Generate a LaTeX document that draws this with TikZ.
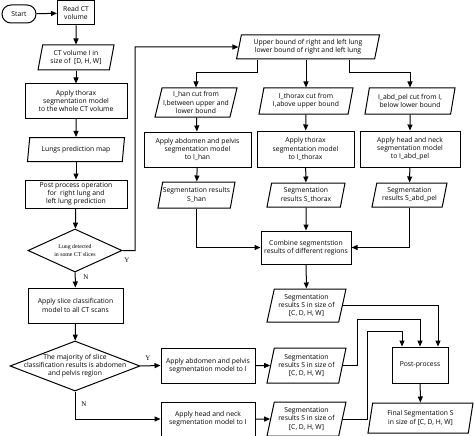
\documentclass[tikz,border=0pt]{standalone}
\usepackage{fontspec}
\setmainfont{Open Sans}
\newfontfamily\serifx{Liberation Serif}
\usetikzlibrary{shapes.geometric,arrows.meta,calc}
\begin{document}
\begin{tikzpicture}[x=1pt,y=-1pt,
  every node/.style={font=\fontsize{6.8}{8.2}\selectfont, align=center, inner sep=0pt},
  box/.style 2 args={draw, line width=1pt, rectangle, minimum width=#1, minimum height=#2},
  par/.style 2 args={draw, line width=1pt, trapezium, trapezium left angle=72, trapezium right angle=108,
     trapezium stretches body, minimum width=#1, minimum height=#2},
  dia/.style 2 args={draw, line width=1pt, diamond, minimum width=#1, minimum height=#2, inner sep=0pt},
  arr/.style={line width=1pt, -{Triangle[length=6pt,width=5pt]}},
  yn/.style={font=\serifx\fontsize{7}{8}\selectfont}
]
\useasboundingbox (0,0) rectangle (474,436);

% left column
\node[draw, line width=1pt, rounded corners=9pt, minimum width=34, minimum height=18] (start) at (19,14) {Start};
\node[box={37}{24}] (read) at (76,13) {Read CT\\volume};
\node[par={76}{25}] (ctvol) at (76,57.5) {CT volume I in\\size of~~{[D, H, W]}};
\node[box={102}{34}] (thor) at (76,101) {Apply thorax\\segmentation model\\to the whole CT volume};
\node[par={97}{24}] (lungs) at (76,149.5) {Lungs prediction map};
\node[box={102}{28}] (post) at (76,194) {Post process operation\\for~ right lung and\\left lung prediction};
\node[dia={94}{43}, label={[font=\serifx\fontsize{5.8}{7.5}\selectfont, align=center]center:Lung detected\\in some CT slices}] (d1) at (75,250.5) {};
\node[box={95}{35}] (slice) at (75.5,305.5) {Apply slice classification\\model to all CT scans};
\node[dia={130}{50}, label={[font=\fontsize{6.8}{8}\selectfont, align=center]center:The majority of slice\\classification results is abdomen\\and pelvis region}] (d2) at (75,366) {};

% upper right
\node[par={143}{24}] (ubound) at (308,47) {Upper bound of right and left lung\\lower bound of right and left lung};
\node[par={82}{29}] (ihan) at (196,102.5) {I\_han cut from\\I,between upper and\\lower bound};
\node[par={94}{26}] (ithor) at (306,101) {I\_thorax cut from\\I,above upper bound};
\node[par={90}{26}] (iabd) at (410,101) {I\_abd\_pel cut from I,\\below lower bound};
\node[box={107}{35}] (aabd) at (197.5,149.5) {Apply abdomen and pelvis\\segmentation model\\to I\_han};
\node[box={97}{36}] (athor) at (305.5,149) {Apply thorax\\segmentation model\\to I\_thorax};
\node[box={100}{36}] (ahead) at (410,149) {Apply head and neck\\segmentation model\\to I\_abd\_pel};
\node[par={77}{26}] (shan) at (196.5,195) {Segmentation results\\S\_han};
\node[par={78}{24}] (sthor) at (306,195) {Segmentation\\results S\_thorax};
\node[par={75}{24}] (sabd) at (409.5,195) {Segmentation\\results S\_abd\_pel};
\node[box={90}{33}] (comb) at (306,247.5) {Combine segmentstion\\results of different regions};
\node[par={79}{33}] (sres1) at (306.5,305.5) {Segmentation\\results S in size of\\{[C, D, H, W]}};

% lower right
\node[box={94}{35}] (aabd2) at (208,365.5) {Apply abdomen and pelvis\\segmentation model to I};
\node[par={79}{35}] (sres2) at (306.5,365.5) {Segmentation\\results S in size of\\{[C, D, H, W]}};
\node[box={94}{34}] (ahead2) at (208,419) {Apply head and neck\\segmentation model to I};
\node[par={79}{34}] (sres3) at (306.5,419) {Segmentation\\results S in size of\\{[C, D, H, W]}};
\node[box={56}{36}] (pp) at (420,365) {Post-process};
\node[par={105}{30}] (final) at (420.5,418) {Final Segmentation S\\in size of [C, D, H, W]};

% connectors left column
\draw[arr] (start) -- (read);
\draw[arr] (read) -- (ctvol);
\draw[arr] (ctvol) -- (thor);
\draw[arr] (thor) -- (lungs);
\draw[arr] (lungs) -- (post);
\draw[arr] (post) -- (d1);
\draw[arr] (d1.east) -| (135,47) -- (ubound.west);
\node[yn] (y1) at (127,260) {Y};
\draw[arr] (d1) -- (slice);
\node[yn] (n1) at (86,277) {N};
\draw[arr] (slice) -- (d2);
\draw[arr] (d2.east) -- (aabd2.west);
\node[yn] (y2) at (148,358) {Y};
\draw[arr] (d2.south) |- (ahead2.west);
\node[yn] (n2) at (84,404) {N};
\draw[arr] (aabd2) -- (sres2);
\draw[arr] (ahead2) -- (sres3);

% connectors upper right
\draw[arr] ([xshift=-51pt]ubound.south) -- ++(0,13) -| (ihan.north);
\draw[arr] (ubound.south -| ithor.north) -- (ithor.north);
\draw[arr] ([xshift=41pt]ubound.south) -- ++(0,13) -| (iabd.north);
\draw[arr] (ihan) -- (aabd);
\draw[arr] (aabd) -- (shan);
\draw[arr] (ithor) -- (athor);
\draw[arr] (athor) -- (sthor);
\draw[arr] (iabd) -- (ahead);
\draw[arr] (ahead) -- (sabd);
\draw[arr] (shan.south) |- (comb.west);
\draw[arr] (sthor) -- (comb);
\draw[arr] (sabd.south) |- (comb.east);
\draw[arr] (comb) -- (sres1);

% to post-process
\draw[arr] (sres1.east) -| ([xshift=18pt]pp.north);
\draw[arr] (sres2.east) -| (357,319) -| (pp.north);
\draw[arr] (sres3.east) -| (367,331) -| ([xshift=-18pt]pp.north);
\draw[arr] (pp) -- (final);
\end{tikzpicture}
\end{document}
